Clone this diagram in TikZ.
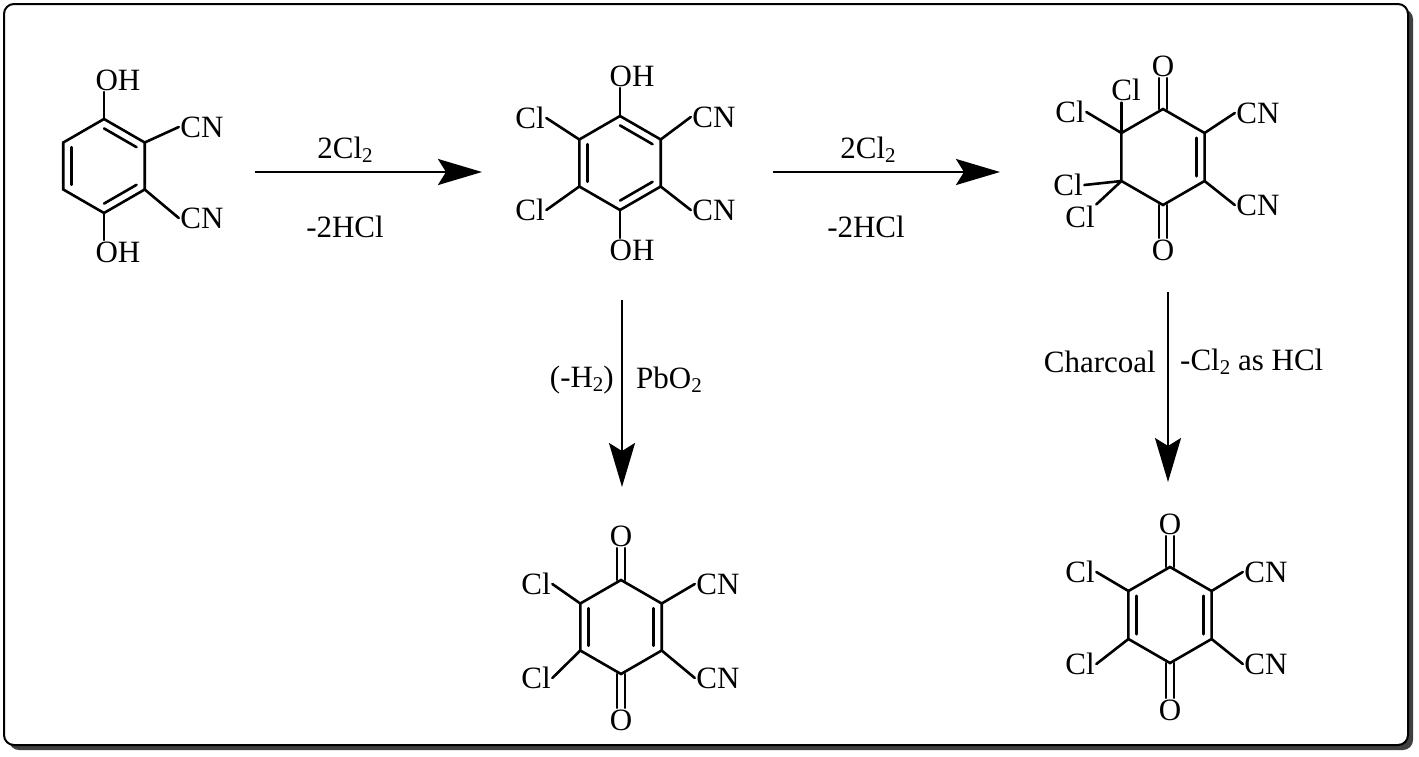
\documentclass[tikz,border=0pt]{standalone}
\usepackage{fontspec}
\setmainfont{Liberation Serif}
\usetikzlibrary{calc,arrows.meta}
\newcommand{\hexat}[4]{%
  \coordinate (#1) at (#2,#3);
  \coordinate (#11) at (#2,#3-#4);
  \coordinate (#12) at (#2+0.866*#4,#3-0.5*#4);
  \coordinate (#13) at (#2+0.866*#4,#3+0.5*#4);
  \coordinate (#14) at (#2,#3+#4);
  \coordinate (#15) at (#2-0.866*#4,#3+0.5*#4);
  \coordinate (#16) at (#2-0.866*#4,#3-0.5*#4);
  \draw[bond] (#11)--(#12)--(#13)--(#14)--(#15)--(#16)--cycle;}
\newcommand{\inb}[3]{\draw[bond] ($(#2)!0.2!(#1)$) -- ($(#3)!0.2!(#1)$);}
\newcommand{\dco}[2]{\draw[bond] ([xshift=-4pt]#1) -- ([xshift=-4pt]#2.center |- #2.south);
  \draw[bond] ([xshift=4pt]#1) -- ([xshift=4pt]#2.center |- #2.south);}
\newcommand{\sbs}[1]{\raisebox{-0.3ex}{\fontsize{21}{22}\selectfont #1}}
\begin{document}
\begin{tikzpicture}[x=1pt,y=-1pt,
  bond/.style={line width=2.6pt,line cap=round},
  atom/.style={font=\fontsize{31}{32}\selectfont,inner sep=1.5pt},
  lab/.style={font=\fontsize{31}{32}\selectfont,inner sep=0pt},
  rxn/.style={line width=2.4pt,-{Stealth[length=44pt,width=26pt,inset=8pt]}}]
\useasboundingbox (0,0) rectangle (1419,756);
\fill[black!75,rounded corners=10pt] (9,9) rectangle (1413,750);
\draw[line width=2pt,fill=white,rounded corners=10pt] (4,4) rectangle (1408,745);
% molecule 1
\hexat{a}{104}{166}{47}
\inb{a}{a1}{a2}\inb{a}{a3}{a4}\inb{a}{a5}{a6}
\node[atom,anchor=south] (a1o) at (118,92) {OH};
\node[atom,anchor=north] (a4o) at (118,240) {OH};
\node[atom] (a2n) at (202,127) {CN};
\node[atom] (a3n) at (202,218) {CN};
\draw[bond] (a1) -- (a1 |- a1o.south);
\draw[bond] (a4) -- (a4 |- a4o.north);
\draw[bond] (a2) -- (a2n.west);
\draw[bond] (a3) -- (a3n.west);
% molecule 2
\hexat{b}{620}{163}{47}
\inb{b}{b1}{b2}\inb{b}{b3}{b4}\inb{b}{b5}{b6}
\node[atom,anchor=south] (b1o) at (632,88) {OH};
\node[atom,anchor=north] (b4o) at (632,238) {OH};
\node[atom] (b2n) at (714,117) {CN};
\node[atom] (b3n) at (714,210) {CN};
\node[atom] (b6c) at (530,118) {Cl};
\node[atom] (b5c) at (530,210) {Cl};
\draw[bond] (b1) -- (b1 |- b1o.south);
\draw[bond] (b4) -- (b4 |- b4o.north);
\draw[bond] (b2) -- (b2n.west);
\draw[bond] (b3) -- (b3n.west);
\draw[bond] (b6) -- (b6c.east);
\draw[bond] (b5) -- (b5c.east);
% molecule 3
\hexat{c}{1163}{157}{48}
\inb{c}{c2}{c3}
\node[atom] (c1o) at (1163,66) {O};
\node[atom] (c4o) at (1163,250) {O};
\dco{c1}{c1o}
\draw[bond] ([xshift=-4pt]c4) -- ([xshift=-4pt]c4o.north);
\draw[bond] ([xshift=4pt]c4) -- ([xshift=4pt]c4o.north);
\node[atom] (c2n) at (1258,113) {CN};
\node[atom] (c3n) at (1258,205) {CN};
\node[atom] (c6a) at (1126,90) {Cl};
\node[atom] (c6b) at (1070,112) {Cl};
\node[atom] (c5a) at (1068,185) {Cl};
\node[atom] (c5b) at (1080,217) {Cl};
\draw[bond] (c2) -- (c2n.west);
\draw[bond] (c3) -- (c3n.west);
\draw[bond] (c6) -- (c6 |- c6a.south);
\draw[bond] (c6) -- (c6b.east);
\draw[bond] (c5) -- (c5a.east);
\draw[bond] (c5) -- (c5b.north east);
% molecule 4
\hexat{d}{621}{627}{47}
\inb{d}{d2}{d3}\inb{d}{d5}{d6}
\node[atom] (d1o) at (621,536) {O};
\node[atom] (d4o) at (621,720) {O};
\dco{d1}{d1o}
\draw[bond] ([xshift=-4pt]d4) -- ([xshift=-4pt]d4o.north);
\draw[bond] ([xshift=4pt]d4) -- ([xshift=4pt]d4o.north);
\node[atom] (d2n) at (718,584) {CN};
\node[atom] (d3n) at (718,678) {CN};
\node[atom] (d6c) at (536,584) {Cl};
\node[atom] (d5c) at (536,678) {Cl};
\draw[bond] (d2) -- (d2n.west);
\draw[bond] (d3) -- (d3n.west);
\draw[bond] (d6) -- (d6c.east);
\draw[bond] (d5) -- (d5c.east);
% molecule 5
\hexat{e}{1170}{615}{48}
\inb{e}{e2}{e3}\inb{e}{e5}{e6}
\node[atom] (e1o) at (1170,524) {O};
\node[atom] (e4o) at (1170,710) {O};
\dco{e1}{e1o}
\draw[bond] ([xshift=-4pt]e4) -- ([xshift=-4pt]e4o.north);
\draw[bond] ([xshift=4pt]e4) -- ([xshift=4pt]e4o.north);
\node[atom] (e2n) at (1266,572) {CN};
\node[atom] (e3n) at (1266,664) {CN};
\node[atom] (e6c) at (1080,572) {Cl};
\node[atom] (e5c) at (1080,664) {Cl};
\draw[bond] (e2) -- (e2n.west);
\draw[bond] (e3) -- (e3n.west);
\draw[bond] (e6) -- (e6c.east);
\draw[bond] (e5) -- (e5c.east);
% arrows
\coordinate (r1s) at (255,172); \coordinate (r1e) at (482,172);
\draw[rxn] (r1s) -- (r1e);
\node[lab] (r1a) at (345,150) {2Cl\sbs{2}};
\node[lab] (r1b) at (345,227) {-2HCl};
\coordinate (r2s) at (773,172); \coordinate (r2e) at (1000,172);
\draw[rxn] (r2s) -- (r2e);
\node[lab] (r2a) at (868,150) {2Cl\sbs{2}};
\node[lab] (r2b) at (866,227) {-2HCl};
\coordinate (r3s) at (622,300); \coordinate (r3e) at (622,487);
\draw[rxn] (r3s) -- (r3e);
\node[lab,anchor=east] (r3a) at (614,380) {(-H\sbs{2})};
\node[lab,anchor=west] (r3b) at (636,380) {PbO\sbs{2}};
\coordinate (r4s) at (1168,292); \coordinate (r4e) at (1168,482);
\draw[rxn] (r4s) -- (r4e);
\node[lab,anchor=east] (r4a) at (1156,362) {Charcoal};
\node[lab,anchor=west] (r4b) at (1180,362) {-Cl\sbs{2} as HCl};
\end{tikzpicture}
\end{document}
